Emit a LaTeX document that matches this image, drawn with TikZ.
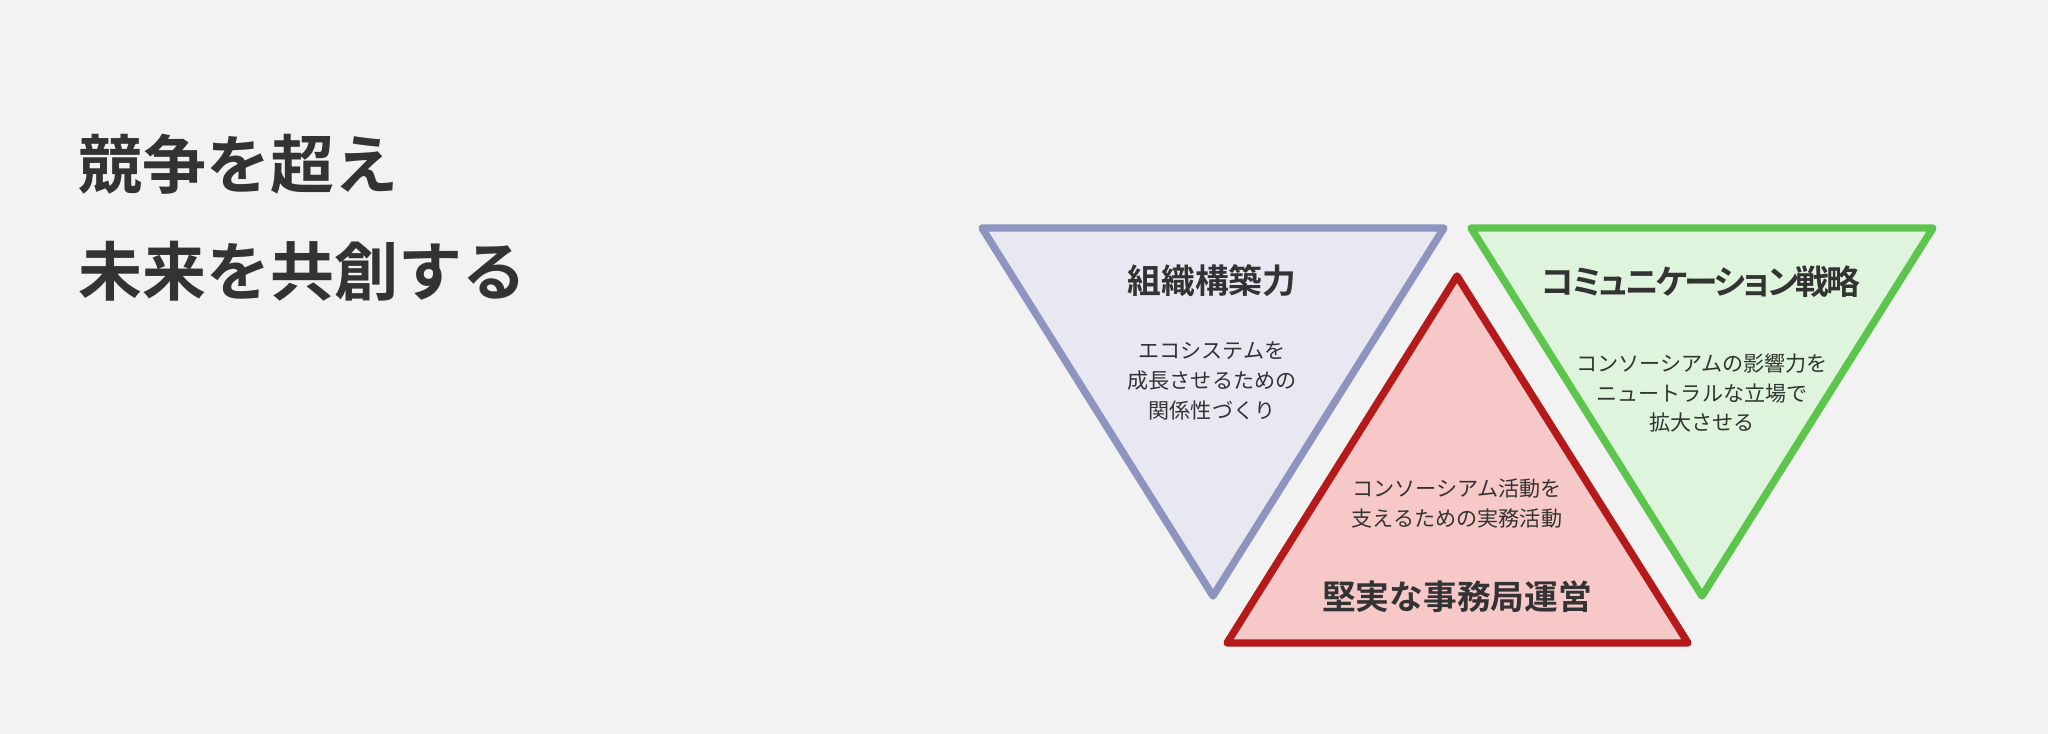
\documentclass[tikz,border=0pt]{standalone}
\usepackage{fontspec}
\newfontfamily\jp{Noto Sans CJK JP}[BoldFont={Noto Sans CJK JP Bold}]
\newfontfamily\jpp{Noto Sans CJK JP}[BoldFont={Noto Sans CJK JP Bold}, RawFeature=+palt, LetterSpace=-8]
\definecolor{bg}{HTML}{F2F2F2}
\definecolor{ink}{HTML}{333333}
\definecolor{orgline}{HTML}{8E94C0}
\definecolor{orgfill}{HTML}{E8E8F2}
\definecolor{comline}{HTML}{5CC64C}
\definecolor{comfill}{HTML}{DFF4DC}
\definecolor{offline}{HTML}{B5191A}
\definecolor{offfill}{HTML}{F7C8C8}
\tikzset{
  tri/.style={line width=2.1pt, line join=round},
  head/.style={font=\jp\bfseries\fontsize{9.6}{11}\selectfont, text=ink},
  headp/.style={font=\jpp\bfseries\fontsize{9.6}{11}\selectfont, text=ink},
  body/.style={font=\jp\fontsize{6}{8.5}\selectfont, text=ink, align=center},
  title/.style={font=\jp\bfseries\fontsize{18.2}{30.4}\selectfont, text=ink, align=left, anchor=west}
}
\begin{document}
\begin{tikzpicture}
            \fill[bg] (0,0) rectangle (20.48,-7.34);
            \useasboundingbox (0,0) rectangle (20.48,-7.34);

            \node[title] (T) at (0.66,-2.18) {競争を超え\\未来を共創する};

            \coordinate (O1) at (9.82,-2.28); \coordinate (O2) at (14.44,-2.28); \coordinate (O3) at (12.13,-5.96);
            \coordinate (C1) at (14.71,-2.28); \coordinate (C2) at (19.33,-2.28); \coordinate (C3) at (17.02,-5.96);
            \coordinate (S1) at (14.57,-2.76); \coordinate (S2) at (16.88,-6.43); \coordinate (S3) at (12.27,-6.43);

            \draw[tri, draw=orgline, fill=orgfill] (O1) -- (O2) -- (O3) -- cycle;
            \draw[tri, draw=comline, fill=comfill] (C1) -- (C2) -- (C3) -- cycle;
            \draw[tri, draw=offline, fill=offfill] (S1) -- (S2) -- (S3) -- cycle;

            \node[head] (OH) at (12.12,-2.81) {組織構築力};
            \node[body] (OB) at (12.12,-3.81) {エコシステムを\\成長させるための\\関係性づくり};
            \node[headp] (CH) at (17.01,-2.82) {コミュニケーション戦略};
            \node[body] (CB) at (17.02,-3.93) {コンソーシアムの影響力を\\ニュートラルな立場で\\拡大させる};
            \node[body] (SB) at (14.57,-5.04) {コンソーシアム活動を\\支えるための実務活動};
            \node[head] (SH) at (14.57,-5.97) {堅実な事務局運営};
        \end{tikzpicture}
\end{document}
